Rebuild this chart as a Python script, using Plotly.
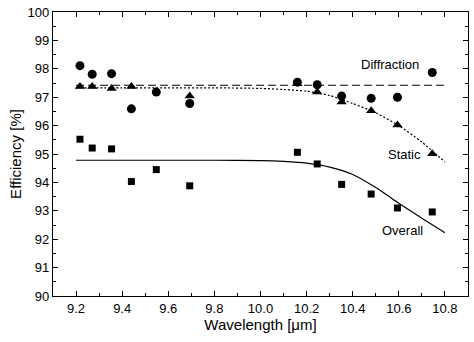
import plotly.graph_objects as go

# Measured points
diff_wl = [9.217, 9.27, 9.354, 9.44, 9.548, 9.693, 10.16, 10.246, 10.352, 10.48, 10.594, 10.745]
diff_eff = [98.11, 97.81, 97.83, 96.59, 97.18, 96.78, 97.53, 97.44, 97.04, 96.96, 97.0, 97.87]

static_wl = [9.217, 9.27, 9.354, 9.44, 9.693, 10.16, 10.246, 10.352, 10.48, 10.594, 10.745]
static_eff = [97.38, 97.38, 97.31, 97.38, 97.04, 97.47, 97.18, 96.83, 96.52, 96.02, 95.01]

overall_wl = [9.217, 9.27, 9.354, 9.44, 9.548, 9.693, 10.16, 10.246, 10.352, 10.48, 10.594, 10.745]
overall_eff = [95.52, 95.21, 95.18, 94.03, 94.45, 93.88, 95.06, 94.65, 93.93, 93.59, 93.10, 92.96]

# Model curves
curve_wl = [9.2, 9.4, 9.6, 9.8, 10.0, 10.1, 10.2, 10.3, 10.4, 10.5, 10.6, 10.7, 10.8]
diff_model = [97.42] * 13
static_model = [97.33, 97.33, 97.33, 97.33, 97.31, 97.27, 97.21, 97.06, 96.78, 96.45, 96.0, 95.42, 94.72]
overall_model = [94.78, 94.78, 94.78, 94.78, 94.77, 94.74, 94.68, 94.54, 94.28, 93.82, 93.27, 92.74, 92.23]

labels = ["Diffraction", "Static", "Overall"]
label_wl = [10.56, 10.626, 10.616]
label_eff = [98.14, 94.98, 92.31]

x_ticks = [9.2, 9.4, 9.6, 9.8, 10.0, 10.2, 10.4, 10.6, 10.8]
y_ticks = [90, 91, 92, 93, 94, 95, 96, 97, 98, 99, 100]

FONT = "Liberation Sans, Arial"

fig = go.Figure()
fig.add_trace(go.Scatter(x=curve_wl, y=diff_model, mode="lines",
                         line=dict(color="black", width=1.2, dash="8px,4px")))
fig.add_trace(go.Scatter(x=curve_wl, y=static_model, mode="lines", line_shape="spline",
                         line=dict(color="black", width=1.2, dash="2px,2px", smoothing=0.6)))
fig.add_trace(go.Scatter(x=curve_wl, y=overall_model, mode="lines", line_shape="spline",
                         line=dict(color="black", width=1.2, smoothing=0.6)))
fig.add_trace(go.Scatter(x=diff_wl, y=diff_eff, mode="markers",
                         marker=dict(symbol="circle", size=9, color="black")))
fig.add_trace(go.Scatter(x=static_wl, y=static_eff, mode="markers",
                         marker=dict(symbol="triangle-up", size=9, color="black")))
fig.add_trace(go.Scatter(x=overall_wl, y=overall_eff, mode="markers",
                         marker=dict(symbol="square", size=7, color="black")))

for t, xw, ye in zip(labels, label_wl, label_eff):
    fig.add_annotation(x=xw, y=ye, text=t, showarrow=False,
                       font=dict(family=FONT, size=13, color="black"))

axis_common = dict(showgrid=False, zeroline=False, showline=True, linecolor="black", linewidth=1.2,
                   mirror="ticks", ticks="inside", ticklen=5, tickcolor="black", tickwidth=1,
                   tickfont=dict(family=FONT, size=13, color="black"))

fig.update_xaxes(range=[9.1, 10.9], tickvals=x_ticks, ticktext=[f"{v:.1f}" for v in x_ticks],
                 minor=dict(tickvals=[9.3, 9.5, 9.7, 9.9, 10.1, 10.3, 10.5, 10.7], ticks="inside",
                            ticklen=3, tickcolor="black"),
                 title=dict(text="Wavelength [μm]", font=dict(family=FONT, size=15, color="black"),
                            standoff=4),
                 **axis_common)
fig.update_yaxes(range=[90, 100], tickvals=y_ticks,
                 minor=dict(tickvals=[90.5 + i for i in range(10)], ticks="inside", ticklen=3, tickcolor="black"),
                 title=dict(text="Efficiency [%]", font=dict(family=FONT, size=15, color="black"),
                            standoff=2),
                 **axis_common)

fig.update_layout(width=474, height=342, margin=dict(l=53, r=5, t=8, b=46),
                  plot_bgcolor="white", paper_bgcolor="white", showlegend=False)

fig.write_html("out.html")
